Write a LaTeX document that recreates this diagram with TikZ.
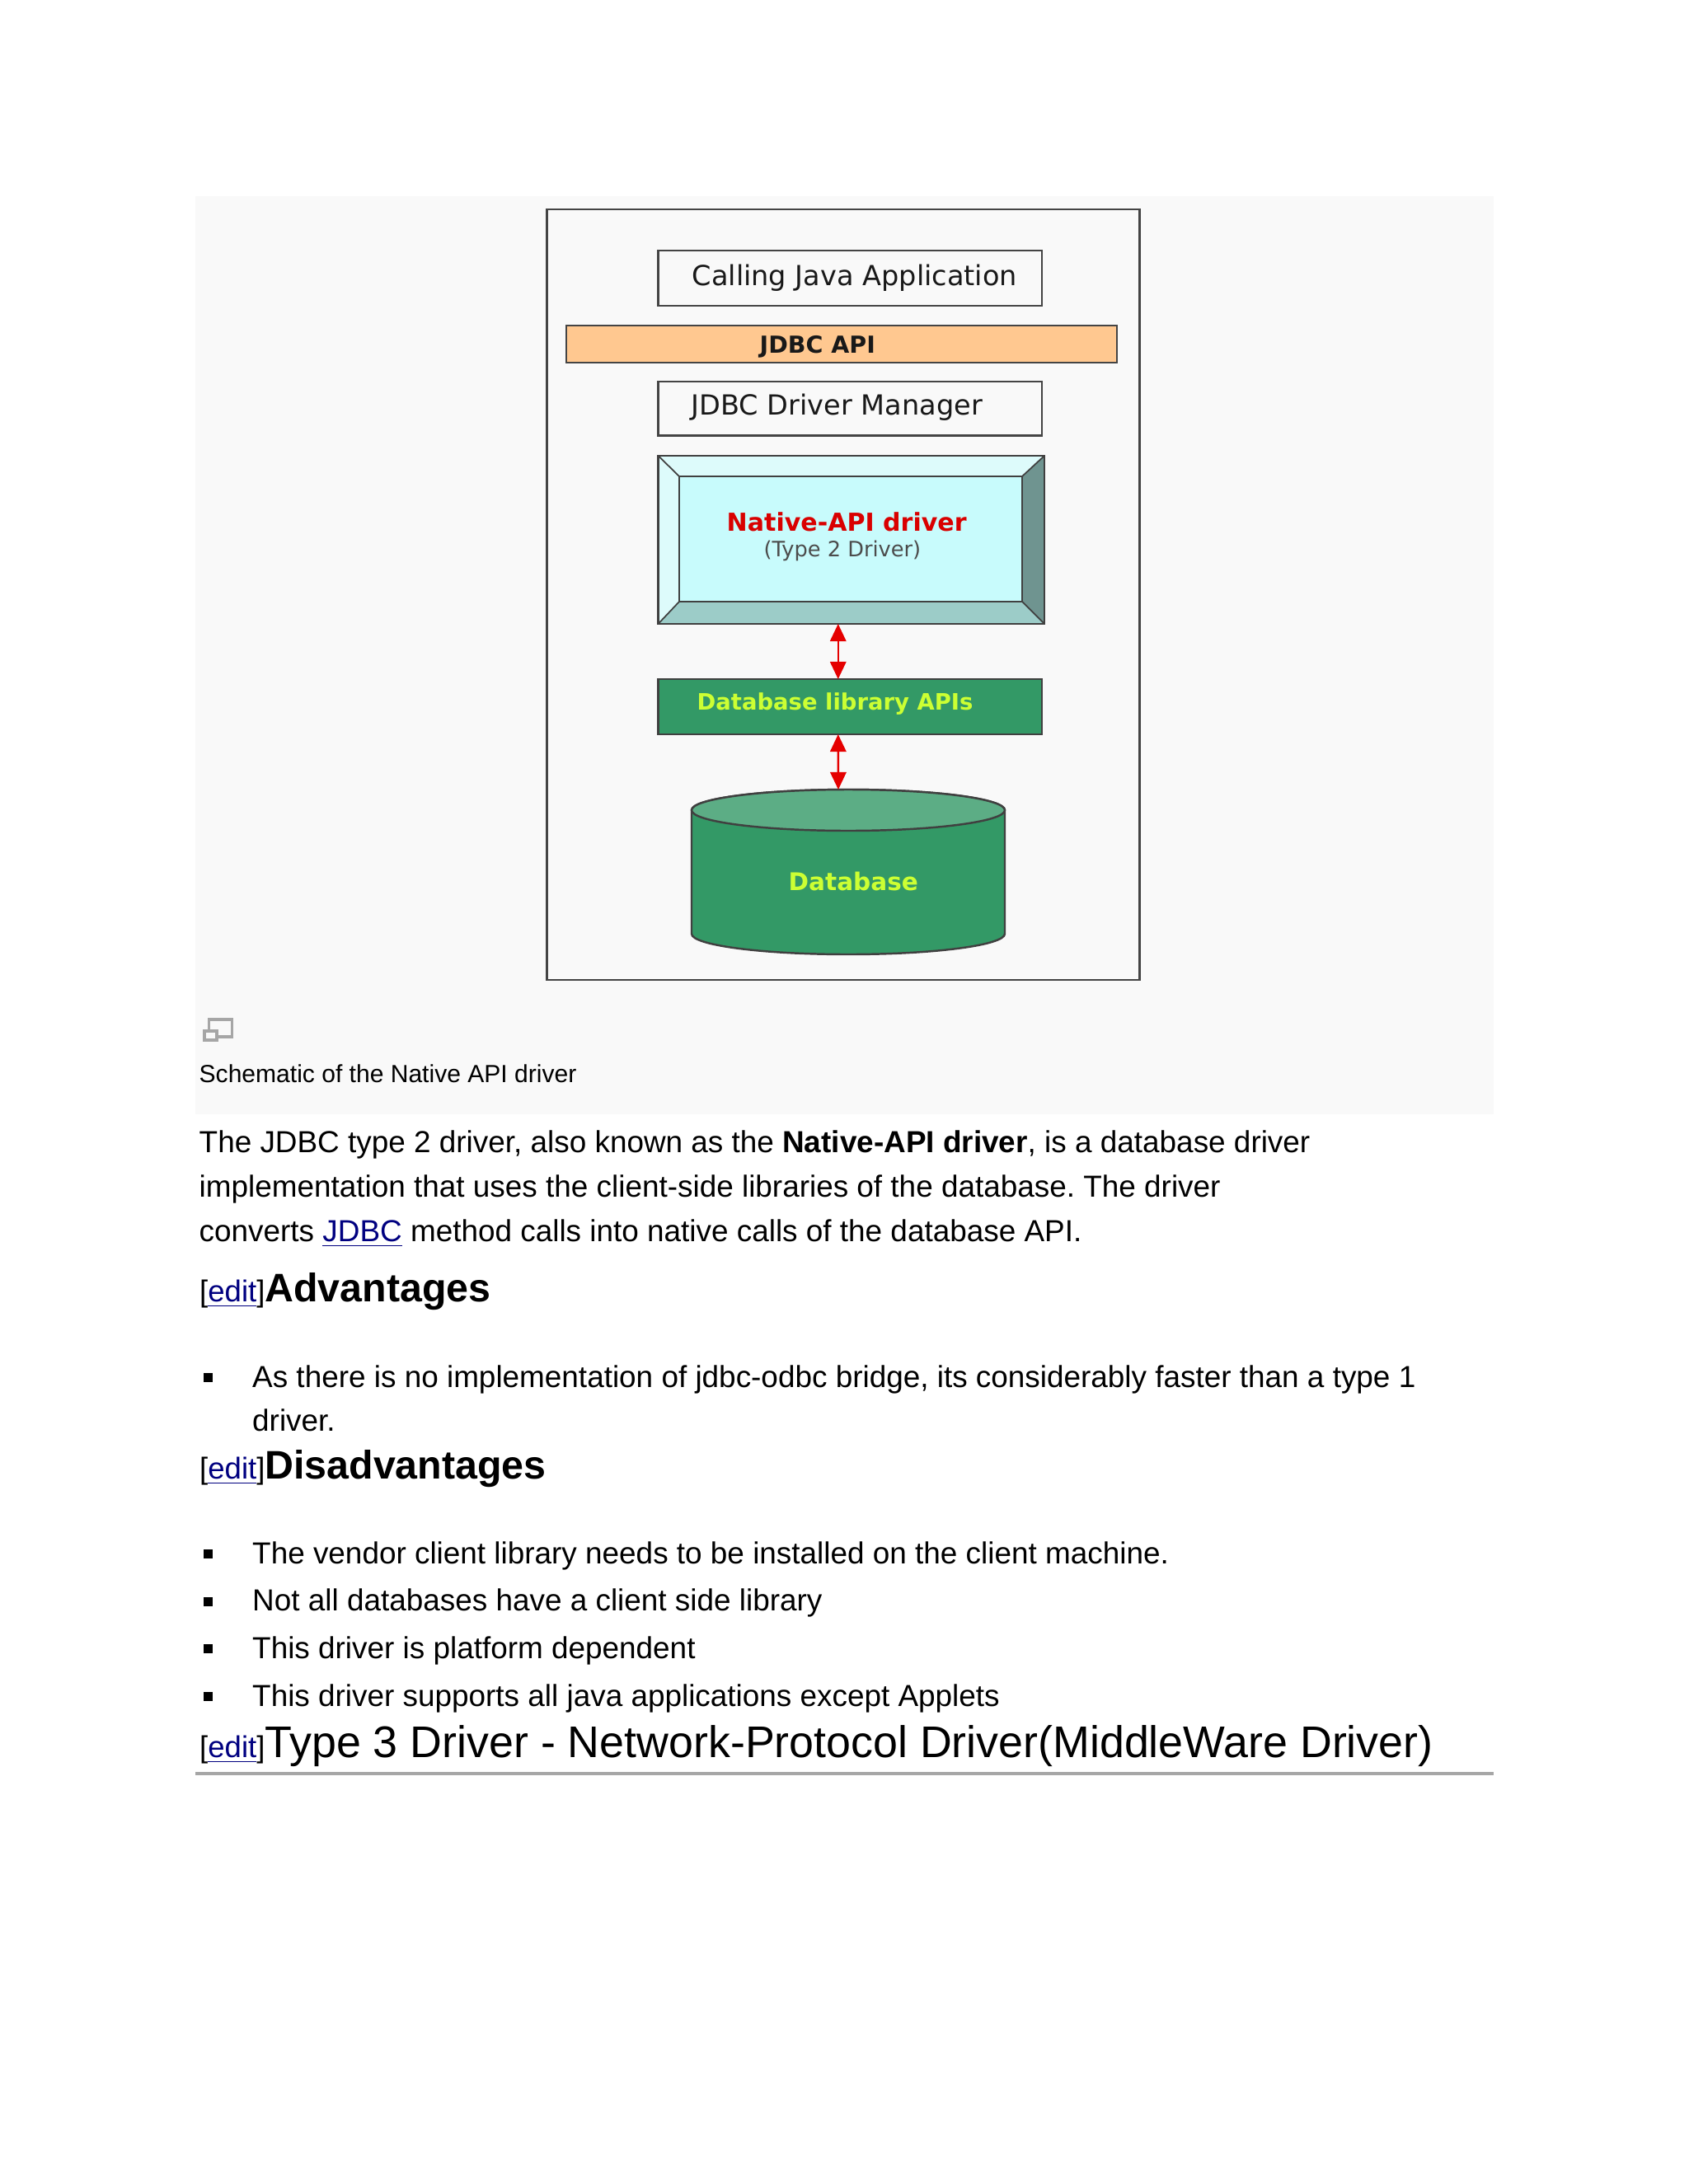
\documentclass[tikz,border=0pt]{standalone}
\usepackage{fontspec}
\setmainfont{Liberation Sans}
\newfontfamily\figfont{DejaVu Sans}
\usetikzlibrary{arrows.meta, positioning, calc}
\definecolor{panelgray}{HTML}{F9F9F9}
\definecolor{linkblue}{HTML}{000080}
\definecolor{boxline}{HTML}{444444}
\definecolor{apifill}{HTML}{FFC890}
\definecolor{dbgreen}{HTML}{339966}
\definecolor{dbtop}{HTML}{5CAD85}
\definecolor{dbtext}{HTML}{CCFF33}
\definecolor{faceblue}{HTML}{C8FBFC}
\definecolor{bevellight}{HTML}{DDFBFB}
\definecolor{bevelmid}{HTML}{9CCCC8}
\definecolor{beveldark}{HTML}{6F9490}
\frenchspacing
\tikzset{
  panel/.style={rectangle, draw=none, fill=panelgray, outer sep=0pt, inner sep=0pt},
  whitebox/.style={rectangle, minimum width=4.655cm, minimum height=0.67cm,
    draw=boxline, fill=panelgray, line width=0.8pt, outer sep=0pt, inner sep=0pt},
  apibar/.style={rectangle, minimum width=6.68cm, minimum height=0.45cm,
    draw=boxline, fill=apifill, line width=0.8pt, outer sep=0pt, inner sep=0pt},
  libbox/.style={rectangle, minimum width=4.655cm, minimum height=0.67cm,
    draw=black!75, fill=dbgreen, line width=0.8pt, outer sep=0pt, inner sep=0pt},
  figlabel/.style={anchor=base west, inner sep=0pt, font=\figfont\fontsize{9.55}{11}\selectfont, text=black!90},
  bodytext/.style={anchor=base west, inner sep=0pt, font=\fontsize{10.5}{14}\selectfont},
  bulletmark/.style={rectangle, fill=black, minimum size=0.11cm, inner sep=0pt, outer sep=0pt},
  heading/.style={anchor=base west, inner sep=0pt, font=\fontsize{13.75}{17}\selectfont\bfseries},
  iconbox/.style={rectangle, draw=gray!70, line width=0.9pt, anchor=north west, inner sep=0pt, outer sep=0pt},
  arr/.style={{Stealth[length=6pt,width=5.5pt,inset=0pt]}-{Stealth[length=6pt,width=5.5pt,inset=0pt]}, red!90!black, line width=0.7pt},
}
\newcommand{\editlink}{\fontsize{10.4}{14}\selectfont\mdseries [\textcolor{linkblue}{\underline{edit}}]}

\begin{document}
\begin{tikzpicture}
  \useasboundingbox (0,0) rectangle (20.48,-26.5);
  \fill[white] (0,0) rectangle (20.48,-26.5);

  \node[panel, minimum width=15.75cm, minimum height=11.14cm, anchor=north west] (figpanel) at (2.37,-2.38) {};
  \node[rectangle, draw=boxline, line width=0.7pt, minimum width=7.19cm, minimum height=9.35cm,
    anchor=north west, outer sep=0pt, fill=panelgray] (frame) at (6.635,-2.54) {};

  % stack of layers
  \node[whitebox, anchor=north west] (calling) at (7.985,-3.04) {};
  \node[whitebox, below=0.92cm of calling, minimum height=0.655cm] (manager) {};
  \node[apibar, anchor=north west] (jdbcapi) at (6.87,-3.95) {};
  \node[whitebox, minimum width=4.685cm, minimum height=2.04cm, anchor=north west] (native) at (7.985,-5.53) {};
  \node[rectangle, minimum width=4.16cm, minimum height=1.52cm, anchor=north west, outer sep=0pt] (nativeface) at (8.24,-5.78) {};
  \fill[bevellight] (native.north west) -- (native.north east) -- (nativeface.north east) -- (nativeface.north west) -- cycle;
  \fill[bevellight] (native.north west) -- (nativeface.north west) -- (nativeface.south west) -- (native.south west) -- cycle;
  \fill[beveldark] (native.north east) -- (nativeface.north east) -- (nativeface.south east) -- (native.south east) -- cycle;
  \fill[bevelmid] (native.south west) -- (nativeface.south west) -- (nativeface.south east) -- (native.south east) -- cycle;
  \draw[black!75, line width=0.7pt, fill=faceblue] (nativeface.south west) rectangle (nativeface.north east);
  \draw[black!75, line width=0.5pt] (native.north west) -- (nativeface.north west) (native.north east) -- (nativeface.north east)
    (native.south west) -- (nativeface.south west) (native.south east) -- (nativeface.south east);
  \draw[black!75, line width=0.8pt] (native.south west) rectangle (native.north east);
  \node[libbox, below=0.67cm of native, xshift=-0.015cm] (dblib) {};

  % database drum
  \node[rectangle, minimum width=3.8cm, minimum height=2cm, anchor=north, inner sep=0pt, outer sep=0pt] (database) at (10.29,-9.58) {};
  \draw[black!75, line width=0.7pt, fill=dbgreen] ($(database.north west)+(0,-0.25)$) -- ($(database.south west)+(0,0.25)$)
    arc[start angle=180, end angle=360, x radius=1.9, y radius=0.25] -- ($(database.north east)+(0,-0.25)$)
    arc[start angle=0, end angle=180, x radius=1.9, y radius=0.25] -- cycle;
  \draw[black!75, line width=0.7pt, fill=dbtop] ($(database.north)+(0,-0.25)$) ellipse [x radius=1.9, y radius=0.25];

  \node[figlabel] (callingtext) at (8.39,-3.46) {Calling Java Application};
  \node[figlabel, font=\figfont\fontsize{8.1}{10}\selectfont\bfseries] (apitext) at (9.21,-4.28) {JDBC API};
  \node[figlabel] (managertext) at (8.38,-5.03) {JDBC Driver Manager};
  \node[figlabel, font=\figfont\fontsize{8.55}{10}\selectfont\bfseries, text=red!85!black] (nativetext) at (8.81,-6.44) {Native-API driver};
  \node[figlabel, font=\figfont\fontsize{7.3}{10}\selectfont, text=black!70] (typetext) at (9.26,-6.75) {(Type 2 Driver)};
  \node[figlabel, font=\figfont\fontsize{7.8}{10}\selectfont\bfseries, text=dbtext] (libtext) at (8.45,-8.61) {Database library APIs};
  \node[figlabel, font=\figfont\fontsize{8.4}{10}\selectfont\bfseries, text=dbtext] (dbtext) at (9.56,-10.80) {Database};

  \draw[arr] ([xshift=-0.16cm]native.south) -- ([xshift=-0.145cm]dblib.north);
  \draw[arr] ([xshift=-0.145cm]dblib.south) -- ([xshift=-0.12cm]database.north);

  % enlarge icon
  \node[iconbox, minimum width=0.28cm, minimum height=0.21cm] (iconbig) at (2.535,-12.37) {};
  \node[iconbox, fill=panelgray, minimum width=0.15cm, minimum height=0.11cm] (iconsmall) at (2.48,-12.51) {};

  % page text
  \node[bodytext, font=\fontsize{8.55}{12}\selectfont] (caption) at (2.41,-13.13) {Schematic of the Native API driver};
  \node[bodytext] (para1) at (2.41,-13.98) {The JDBC type 2 driver, also known as the \textbf{Native-API driver}, is a database driver};
  \node[bodytext] (para2) at (2.41,-14.52) {implementation that uses the client-side libraries of the database. The driver};
  \node[bodytext] (para3) at (2.41,-15.06) {converts \textcolor{linkblue}{\underline{JDBC}} method calls into native calls of the database API.};
  \node[heading] (advantages) at (2.415,-15.795) {\editlink{}\fontsize{13.75}{17}\selectfont\bfseries Advantages};

  \node[bulletmark] (bulleta) at (2.525,-16.71) {};
  \node[bodytext] (itema) at (3.055,-16.83) {As there is no implementation of jdbc-odbc bridge, its considerably faster than a type 1};
  \node[bodytext] (itemb) at (3.055,-17.36) {driver.};
  \node[heading] (disadvantages) at (2.415,-17.94) {\editlink{}\fontsize{13.75}{17}\selectfont\bfseries Disadvantages};

  \node[bulletmark] (bulletc) at (2.525,-18.85) {};
  \node[bodytext] (itemc) at (3.055,-18.97) {The vendor client library needs to be installed on the client machine.};
  \node[bulletmark] (bulletd) at (2.525,-19.43) {};
  \node[bodytext] (itemd) at (3.055,-19.545) {Not all databases have a client side library};
  \node[bulletmark] (bullete) at (2.525,-20.00) {};
  \node[bodytext] (iteme) at (3.055,-20.125) {This driver is platform dependent};
  \node[bulletmark] (bulletf) at (2.525,-20.58) {};
  \node[bodytext] (itemf) at (3.055,-20.70) {This driver supports all java applications except Applets};
  \node[heading, font=\fontsize{15.3}{18}\selectfont] (type3) at (2.415,-21.32) {\editlink{}\fontsize{15.3}{18}\selectfont Type 3 Driver - Network-Protocol Driver(MiddleWare Driver)};
  \coordinate (ruleleft) at (2.37,-21.52);
  \draw[gray!70, line width=0.9pt] (ruleleft) -- (ruleleft -| figpanel.east);
\end{tikzpicture}
\end{document}
